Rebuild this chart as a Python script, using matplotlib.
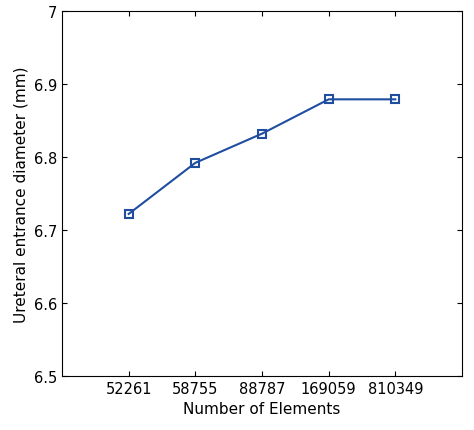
import matplotlib
matplotlib.use("Agg")
import matplotlib.pyplot as plt

categories = ["52261", "58755", "88787", "169059", "810349"]
diameters = [6.722, 6.792, 6.832, 6.879, 6.879]

fig = plt.figure(figsize=(4.74, 4.31), dpi=100)
ax = fig.add_axes([62/474, 1-377/431, 400/474, 365/431])
xs = list(range(1, len(categories)+1))
ax.plot(xs, diameters, color="#1f4ea0", lw=1.5, marker="s", ms=6,
        mfc="none", mec="#1f4ea0", mew=1.5)
ax.set_xlim(0, 6)
ax.set_ylim(6.5, 7.0)
ax.set_xticks(xs)
ax.set_xticklabels(categories)
ax.set_yticks([6.5, 6.6, 6.7, 6.8, 6.9, 7.0])
ax.set_yticklabels(["6.5", "6.6", "6.7", "6.8", "6.9", "7"])
ax.tick_params(direction="in", labelsize=10.5, top=True, right=True)
ax.set_xlabel("Number of Elements", fontsize=11)
ax.set_ylabel("Ureteral entrance diameter (mm)", fontsize=11)
fig.savefig("out.png", dpi=100)
